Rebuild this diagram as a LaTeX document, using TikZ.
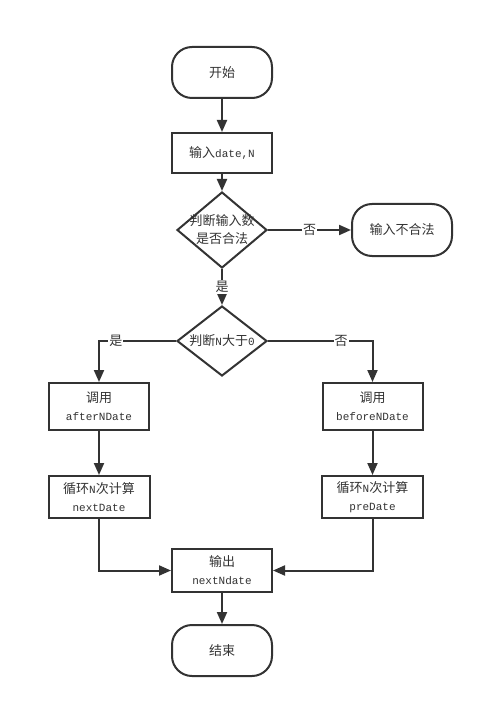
\documentclass[tikz,border=0pt]{standalone}
\usepackage{fontspec}
\setmainfont{Noto Sans CJK SC}
\setmonofont{Liberation Mono}
\usetikzlibrary{arrows.meta,shapes.geometric}
\definecolor{Ink}{HTML}{333333}
\newcommand\code[1]{{\fontsize{11}{18}\selectfont\ttfamily #1}}
\tikzset{
  arr/.style={-{Triangle[length=12pt,width=10pt]},line width=2pt,draw=Ink},
  termbox/.style={draw=Ink,line width=2pt,rounded corners=20pt,minimum width=100pt,minimum height=51pt,align=center},
  procbox/.style={draw=Ink,line width=2pt,minimum width=100pt,minimum height=42pt,align=center},
  decbox/.style={diamond,draw=Ink,line width=2pt,minimum width=90pt,minimum height=76pt,inner sep=0pt},
  lbl/.style={fill=white,inner sep=1pt,text=Ink}
}
\begin{document}
\begin{tikzpicture}[x=1pt,y=-1pt,font=\fontsize{13}{18}\selectfont,text=Ink]
  \useasboundingbox[fill=white] (0,0) rectangle (483,708);
  \node[termbox] (start) at (222,72.5) {开始};
  \node[procbox,minimum height=40pt] (input) at (222,153) {输入\code{date,N}};
  \node[decbox,label={[align=center]center:判断输入数\\是否合法}] (check) at (222,230) {};
  \node[termbox,minimum height=52pt] (bad) at (402,230) {输入不合法};
  \node[decbox,minimum height=70pt,label={center:判断\code{N}大于\code{0}}] (sign) at (222,341) {};
  \node[procbox,minimum height=47pt] (after) at (99,406.5) {调用\\\code{afterNDate}};
  \node[procbox,minimum height=47pt] (before) at (372.5,406.5) {调用\\\code{beforeNDate}};
  \node[procbox,minimum width=101pt] (next) at (99,497) {循环\code{N}次计算\\\code{nextDate}};
  \node[procbox,minimum width=101pt] (prev) at (372.5,497) {循环\code{N}次计算\\\code{preDate}};
  \node[procbox,minimum height=43pt] (out) at (222,570.5) {输出\\\code{nextNdate}};
  \node[termbox] (stop) at (222,650.5) {结束};
  \draw[arr] (start)--(input);
  \draw[arr] (input)--(check);
  \draw[arr] (check.east)--node[lbl]{否}(bad.west);
  \draw[arr] (check.south)--node[lbl]{是}(sign.north);
  \draw[arr] (sign.west)-|node[lbl,pos=0.39]{是}(after.north);
  \draw[arr] (sign.east)-|node[lbl,pos=0.35]{否}(before.north);
  \draw[arr] (after)--(next);
  \draw[arr] (before)--(prev);
  \draw[arr] (next.south)|-(out.west);
  \draw[arr] (prev.south)|-(out.east);
  \draw[arr] (out)--(stop);
\end{tikzpicture}
\end{document}
